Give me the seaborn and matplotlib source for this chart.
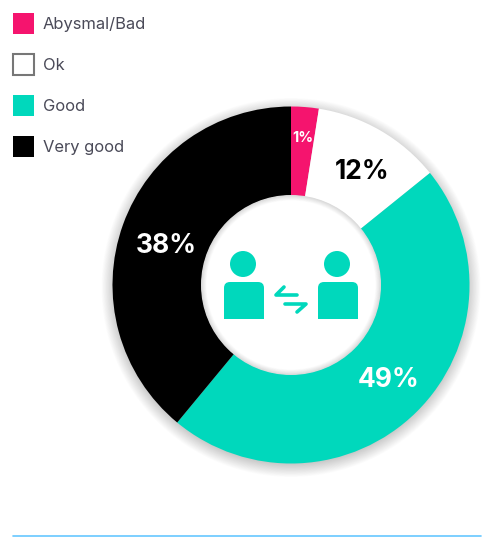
import numpy as np
import matplotlib
matplotlib.use("Agg")
import matplotlib.pyplot as plt
from matplotlib.patches import Circle, FancyBboxPatch, Rectangle, Patch
import seaborn as sns

categories = ["Abysmal/Bad", "Ok", "Good", "Very good"]
slice_sizes = [2.5, 11.7, 46.8, 39.0]
value_labels = ["1%", "12%", "49%", "38%"]

colors = ["#F5146E", "#FFFFFF", "#00D8BC", "#000000"]
label_colors = ["white", "black", "white", "white"]
label_sizes = [10.5, 19, 19, 19]
label_radii = [0.84, 0.757, 0.755, 0.735]
label_turns = [0, 1.6, -1.7, -1.6]
edge_colors = ["none", "#777777", "none", "none"]
TEAL = "#00D8BC"

sns.set_theme(style="white")
plt.rcParams["font.family"] = ["Inter", "DejaVu Sans"]

fig = plt.figure(figsize=(5, 5.5), dpi=100, facecolor="white")
ax = fig.add_axes([0, 0, 1, 1])

CX, CY, R_OUT, R_IN = 291, 265, 178.5, 90   # CY measured from the bottom

# Soft outer shadow, a little lower than the ring
for i in range(18):
    ax.add_patch(Circle((CX, CY - 2.5), R_OUT + 11 - i * 0.75, fc="black",
                        ec="none", alpha=0.012, zorder=1))

wedges, _ = ax.pie(slice_sizes, colors=colors, startangle=90, counterclock=False,
                   center=(CX, CY), radius=R_OUT, frame=False,
                   wedgeprops=dict(linewidth=0, zorder=2))
for w in wedges:
    w.set_zorder(2)

# Hole with a soft inner shadow
n = 10
for i in range(n):
    g = 0.84 + 0.16 * (i + 1) / n
    ax.add_patch(Circle((CX, CY), R_IN - i * 0.6, fc=(g, g, g), ec="none", zorder=3))

ax.set_xlim(0, 500)
ax.set_ylim(0, 550)
ax.set_aspect("equal")
ax.axis("off")

# Value labels placed along each wedge's mid-angle
for w, txt, col, size, rad, turn in zip(wedges, value_labels, label_colors, label_sizes,
                                        label_radii, label_turns):
    a = np.deg2rad((w.theta1 + w.theta2) / 2 - turn)
    ax.text(CX + rad * R_OUT * np.cos(a), CY + rad * R_OUT * np.sin(a) - 2, txt, color=col,
            fontsize=size, fontweight="bold", ha="center", va="center", zorder=5)

# Central icon
def Y(py):
    return 550 - py

for cx, x0, x1 in [(243, 224, 264), (337, 318, 358)]:
    ax.add_patch(Circle((cx, Y(264)), 13, fc=TEAL, ec="none", zorder=4))
    ax.add_patch(FancyBboxPatch((x0 + 6, Y(319) + 6), x1 - x0 - 12, 37 - 12,
                                boxstyle="round,pad=6,rounding_size=6",
                                fc=TEAL, ec="none", zorder=4))
    ax.add_patch(Rectangle((x0, Y(319)), x1 - x0, 12, fc=TEAL, ec="none", zorder=4))

arrow_kw = dict(color=TEAL, lw=2.6, solid_capstyle="round", solid_joinstyle="round", zorder=4)
ax.plot([284, 276, 297], [Y(287), Y(295), Y(295)], **arrow_kw)
ax.plot([285, 306, 297], [Y(304), Y(304), Y(312)], **arrow_kw)

# Bottom rule
ax.plot([13, 481], [Y(536), Y(536)], color="#66C7FF", lw=1.2, zorder=1)

# Legend
handles = [Patch(facecolor=c, edgecolor=e, linewidth=1.5 if e != "none" else 0, label=l)
           for c, e, l in zip(colors, edge_colors, categories)]
fs = 11.9
fs_px = fs * 100 / 72
leg = ax.legend(handles=handles, loc="upper left", bbox_to_anchor=(13 / 500, 1 - 13 / 550),
                bbox_transform=ax.transAxes, frameon=False, fontsize=fs, borderpad=0,
                borderaxespad=0, handlelength=21 / fs_px,
                handleheight=(21 / fs_px - 0.245) / 0.65,
                handletextpad=9 / fs_px, labelspacing=(41 - 21) / fs_px,
                labelcolor="#4A4A58")
leg.set_zorder(6)

fig.savefig("out.png", dpi=100, facecolor="white")
